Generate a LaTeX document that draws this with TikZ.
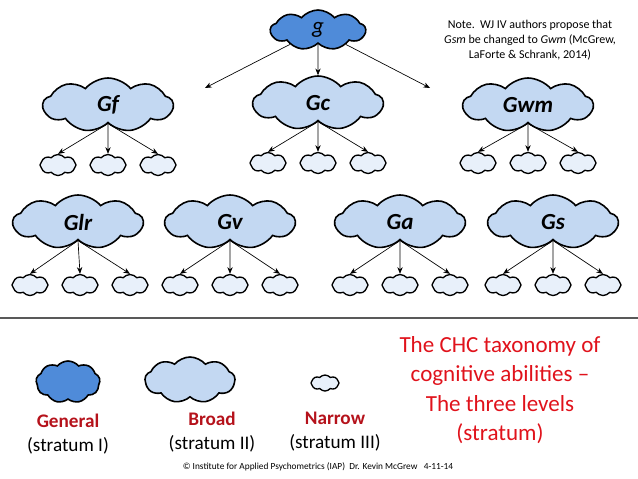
\documentclass[tikz,border=0pt]{standalone}
\usepackage{fontspec}
\setmainfont{Carlito}
\usetikzlibrary{shapes.symbols,arrows.meta}
\definecolor{gen}{HTML}{4F8BD9}
\definecolor{brd}{HTML}{C3D8F2}
\definecolor{nar}{HTML}{E8F0FA}
\definecolor{redt}{HTML}{E0121B}
\definecolor{darkred}{HTML}{B5121B}
\tikzset{
  cl/.style={cloud, cloud puffs=9, cloud puff arc=100, cloud ignores aspect, draw=black, line width=1.2pt, inner sep=0pt},
  gencl/.style={cl, fill=gen, minimum width=95pt*0.75, minimum height=40pt*0.75},
  brcl/.style={cl, fill=brd, minimum width=130pt*0.75, minimum height=54pt*0.75, font=\LARGE\bfseries\itshape},
  nacl/.style={cl, fill=nar, cloud puffs=8, line width=1pt, minimum width=36pt*0.75, minimum height=21pt*0.75},
  arr/.style={-{Stealth[length=5pt,width=4pt]}, line width=0.5pt},
}
\begin{document}
\begin{tikzpicture}[x=0.75pt,y=-0.75pt]
\useasboundingbox (0,0) rectangle (638,478);
\node[gencl, font=\LARGE\itshape] (g) at (318,30) {g};
\node[brcl] (Gf) at (108,105) {Gf};
\node[brcl] (Gc) at (318,103) {Gc};
\node[brcl] (Gwm) at (528,105) {Gwm};
\coordinate (ef) at (205,88);
\coordinate (ew) at (430,88);
\draw[arr] (g) -- (ef);
\draw[arr] (g) -- (Gc);
\draw[arr] (g) -- (ew);
\node[font=\small, align=center] (note) at (530,40) {Note.\ \ WJ IV authors propose that\\\textit{Gsm} be changed to \textit{Gwm} (McGrew,\\LaForte \& Schrank, 2014)};
\foreach \n/\x/\y in {Gf/108/165, Gc/318/163, Gwm/528/163} {
  \node[nacl] (\n a) at (\x-50,\y) {};
  \node[nacl] (\n b) at (\x,\y) {};
  \node[nacl] (\n c) at (\x+50,\y) {};
  \draw[arr] (\n.south) -- (\n a.north);
  \draw[arr] (\n.south) -- (\n b.north);
  \draw[arr] (\n.south) -- (\n c.north);
}
\node[brcl] (Glr) at (78,222) {Glr};
\node[brcl] (Gv) at (230,222) {Gv};
\node[brcl] (Ga) at (400,222) {Ga};
\node[brcl] (Gs) at (553,222) {Gs};
\foreach \n/\x in {Glr/80, Gv/230, Ga/400, Gs/553} {
  \node[nacl] (\n a) at (\x-50,285) {};
  \node[nacl] (\n b) at (\x,285) {};
  \node[nacl] (\n c) at (\x+50,285) {};
  \draw[arr] (\n.south) -- (\n a.north);
  \draw[arr] (\n.south) -- (\n b.north);
  \draw[arr] (\n.south) -- (\n c.north);
}
\coordinate (l1) at (0,318);
\coordinate (l2) at (638,318);
\draw[line width=2pt, gray!70!black] (l1) -- (l2);
\node[gencl, minimum width=64pt*0.75, minimum height=42pt*0.75] (lg) at (68,382) {};
\node[cl, fill=brd, minimum width=90pt*0.75, minimum height=46pt*0.75] (lb) at (190,380) {};
\node[nacl, minimum width=28pt*0.75, minimum height=16pt*0.75] (ln) at (325,383) {};
\node[align=center, font=\Large] (tg) at (68,434) {\textcolor{darkred}{\textbf{General}}\\(stratum I)};
\node[align=center, font=\Large] (tb) at (212,432) {\textcolor{darkred}{\textbf{Broad}}\\(stratum II)};
\node[align=center, font=\Large] (tn) at (335,432) {\textcolor{darkred}{\textbf{Narrow}}\\(stratum III)};
\node[align=center, font=\LARGE, text=redt] (title) at (500,390) {The CHC taxonomy of\\cognitive abilities --\\The three levels\\(stratum)};
\node[font=\scriptsize] (foot) at (318,467) {\textcopyright{} Institute for Applied Psychometrics (IAP)\ \ Dr. Kevin McGrew\ \ \ 4-11-14};
\end{tikzpicture}
\end{document}
